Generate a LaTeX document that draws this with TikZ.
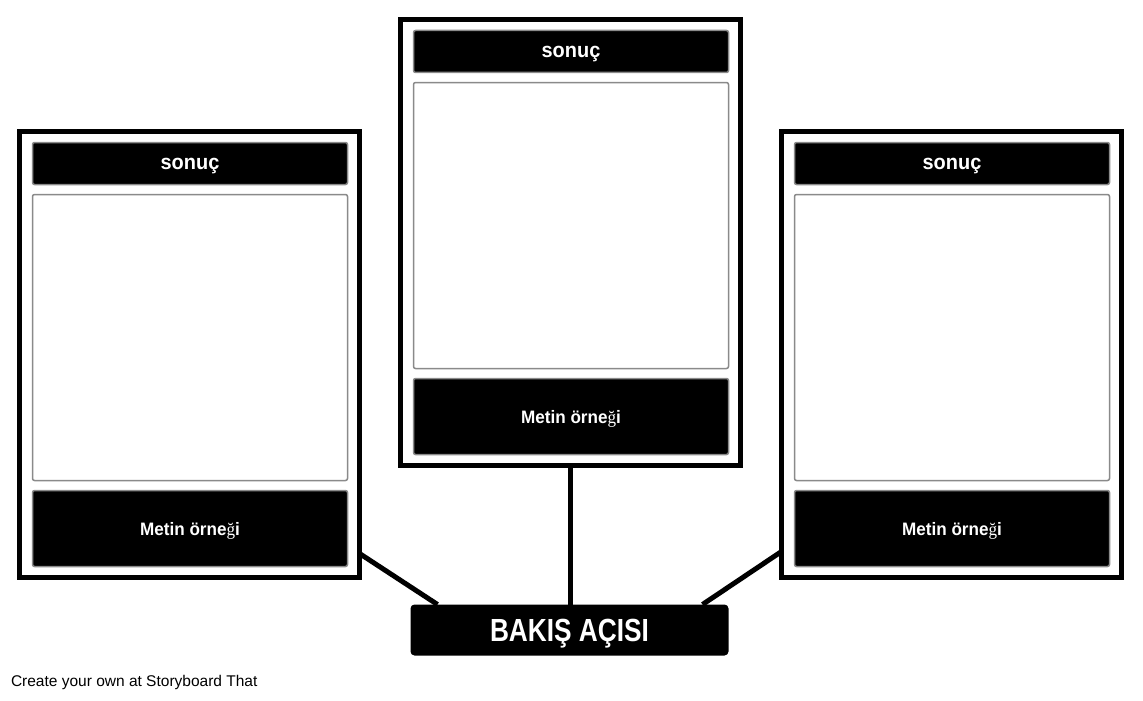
\documentclass[tikz,border=0pt]{standalone}
\usepackage{fontspec}
\setmainfont{Liberation Sans}
\newfontfamily\condfont[FakeStretch=0.95]{Liberation Sans}
\newfontfamily\capsfont[FakeStretch=0.82]{Liberation Sans}
\newfontfamily\condserif[FakeStretch=0.95]{Liberation Serif}
\definecolor{edgegray}{HTML}{8A8A8A}
\tikzset{
  every node/.style={outer sep=0pt},
  outerframe/.style={draw=black, line width=5pt, fill=white, inner sep=0pt, anchor=north west, minimum width=340pt, minimum height=446pt},
  headbox/.style={draw=edgegray, line width=1.5pt, fill=black, rounded corners=2pt, inner sep=0pt, anchor=north west, minimum width=315pt, minimum height=42pt, text=white, text depth=0pt, font=\condfont\bfseries\fontsize{21}{23}\selectfont},
  contentbox/.style={draw=edgegray, line width=1.5pt, fill=white, rounded corners=2pt, inner sep=0pt, anchor=north west, minimum width=315pt, minimum height=286pt},
  footbox/.style={draw=edgegray, line width=1.5pt, fill=black, rounded corners=2pt, inner sep=0pt, anchor=north west, minimum width=315pt, minimum height=76pt, text=white, text depth=0pt, font=\condfont\bfseries\fontsize{18}{20}\selectfont},
  titlebox/.style={fill=black, rounded corners=4pt, inner sep=0pt, minimum width=318pt, minimum height=51pt, text=white, text depth=0pt, font=\capsfont\bfseries\fontsize{32}{34}\selectfont},
  connector/.style={draw=black, line width=5pt}
}
\newcommand{\mypanel}[3]{%
  \node[outerframe] (#1o) at (#2,#3) {};
  \node[headbox] (#1h) at (#2+13,#3+11) {sonuç};
  \node[contentbox] (#1c) at (#2+13,#3+63) {};
  \node[footbox] (#1b) at (#2+13,#3+359) {Metin örne{\condserif\mdseries ğ}i};
}
\begin{document}
\begin{tikzpicture}[x=1pt,y=-1pt]
\useasboundingbox (0,0) rectangle (1143,701);
\mypanel{L}{19.5}{131.5}
\mypanel{C}{400.5}{19.5}
\mypanel{R}{781.5}{131.5}
\node[titlebox, anchor=north west] (T) at (410.5,604.5) {BAKIŞ AÇISI};
\draw[connector] ([yshift=24pt]Lo.south east) -- ([xshift=27pt]T.north west);
\draw[connector] ([yshift=26pt]Ro.south west) -- ([xshift=-26pt]T.north east);
\draw[connector] (Co.south) -- (Co.south |- T.north);
\node[anchor=west, inner sep=0pt, font=\fontsize{15.5}{17}\selectfont] (F) at (11,682) {Create your own at Storyboard That};
\end{tikzpicture}
\end{document}
